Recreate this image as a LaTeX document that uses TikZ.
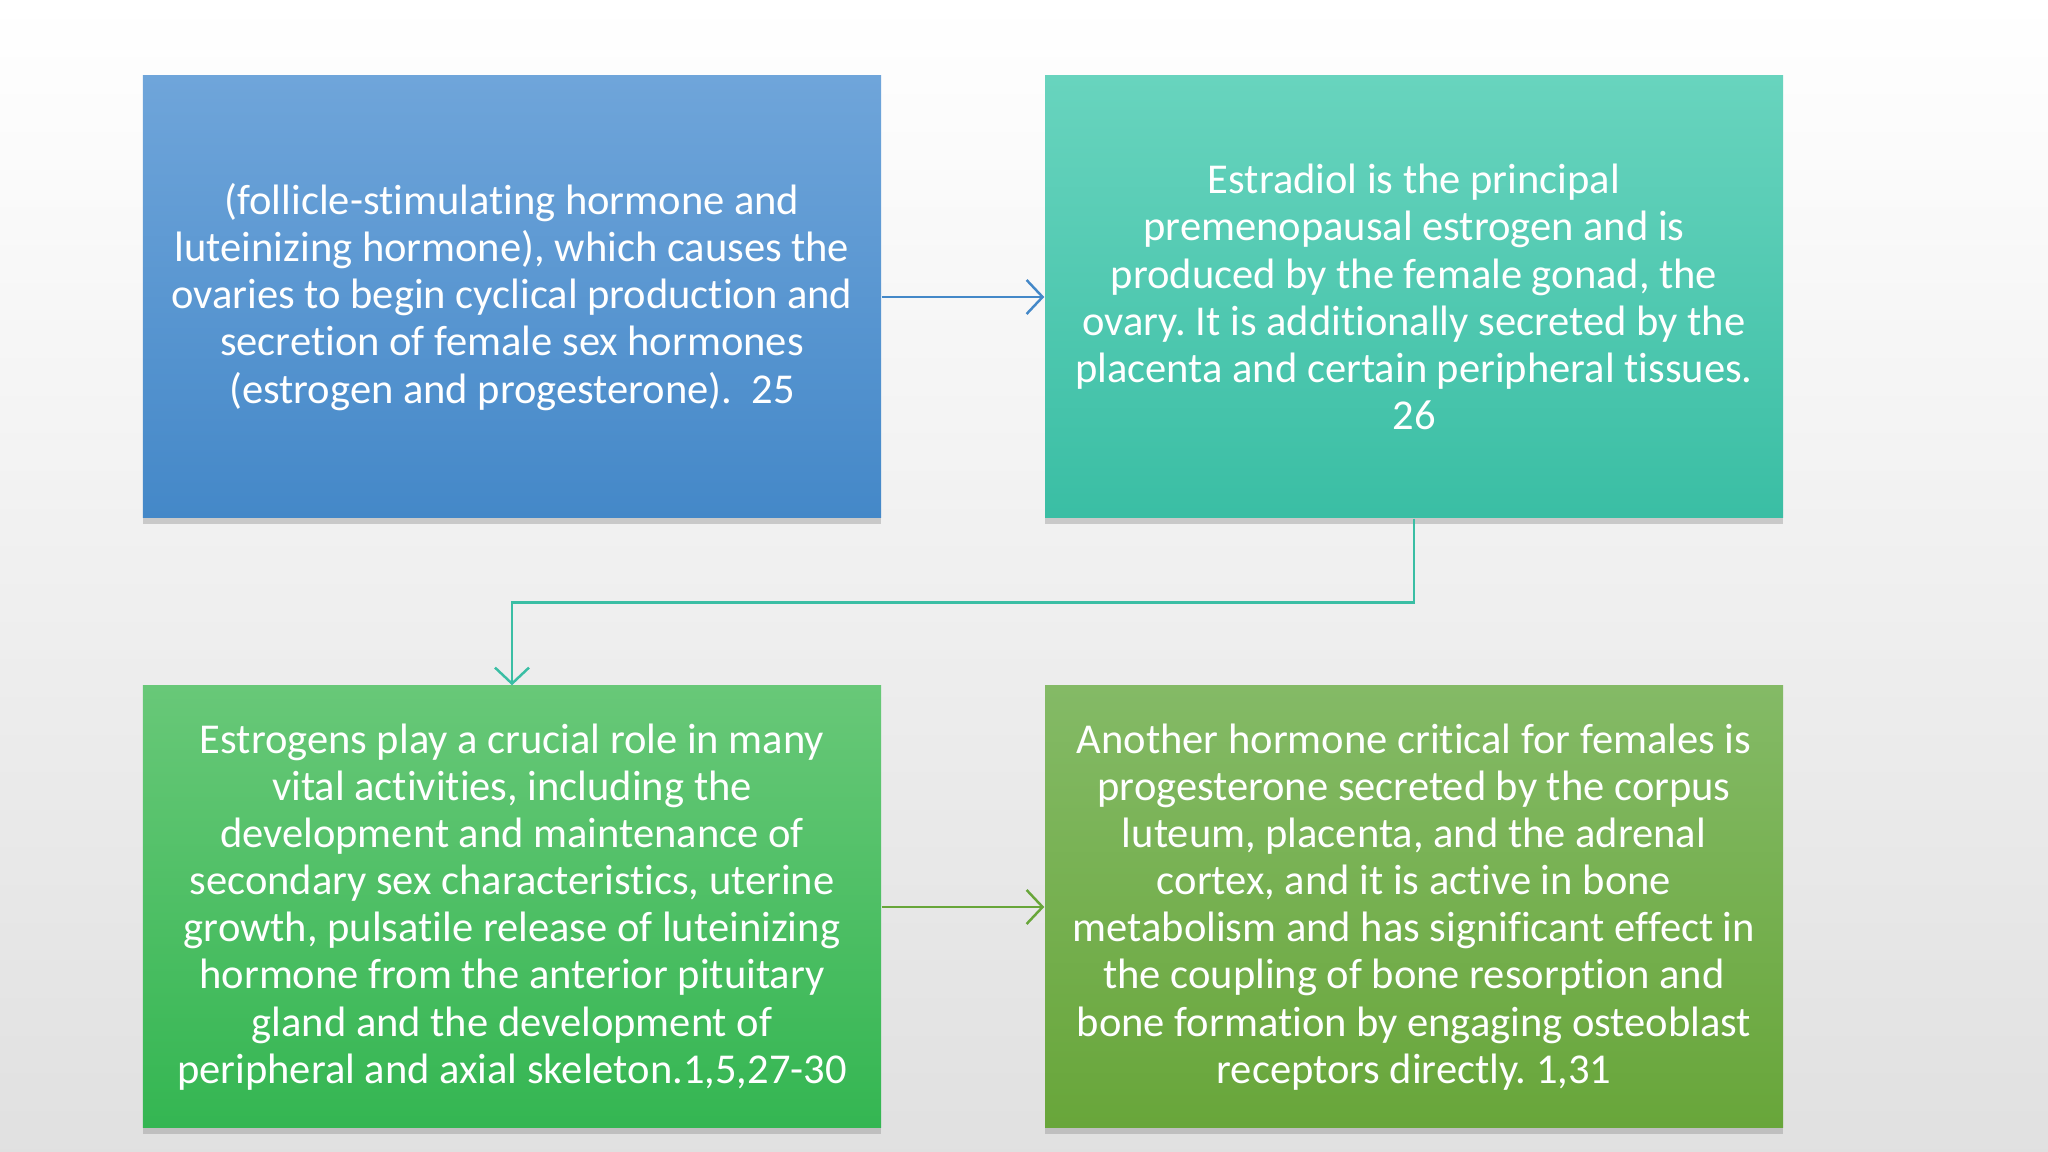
\documentclass[tikz,border=0pt]{standalone}
\usepackage{fontspec}
\setmainfont[Ligatures=NoCommon]{Carlito}
\usepackage{xcolor}
\usetikzlibrary{arrows.meta,shadows}
\frenchspacing

\definecolor{blueTop}{RGB}{111,165,218}
\definecolor{blueBot}{RGB}{68,136,200}
\definecolor{tealTop}{RGB}{104,212,190}
\definecolor{tealBot}{RGB}{58,190,164}
\definecolor{greenTop}{RGB}{104,200,120}
\definecolor{greenBot}{RGB}{52,182,82}
\definecolor{oliveTop}{RGB}{132,186,102}
\definecolor{oliveBot}{RGB}{104,166,58}

\begin{document}
\begin{tikzpicture}[
  box/.style={rectangle, minimum width=7.38cm, minimum height=4.42cm, inner sep=0pt,
    align=center, text=white, font=\fontsize{12.1}{13.4}\selectfont,
    drop shadow={shadow xshift=0mm, shadow yshift=-0.6mm, fill=black!50, opacity=0.35}},
  flow/.style={line width=0.7pt, -{Straight Barb[length=1.6mm,width=3.4mm]}}
]
  % Background
  \shade[top color=white, middle color=black!3, bottom color=black!12] (0,0) rectangle (20.48,11.52);
  \useasboundingbox (0,0) rectangle (20.48,11.52);

  % Draw boxes
  \node[box, top color=blueTop, bottom color=blueBot] (fsh) at (5.12, 8.55)
    {(follicle-stimulating hormone and\\luteinizing hormone), which causes the\\ovaries to begin cyclical production and\\secretion of female sex hormones\\(estrogen and progesterone).~~25};
  \node[box, top color=tealTop, bottom color=tealBot] (estradiol) at (14.14, 8.55)
    {Estradiol is the principal\\premenopausal estrogen and is\\produced by the female gonad, the\\ovary. It is additionally secreted by the\\placenta and certain peripheral tissues.\\26};
  \node[box, top color=greenTop, bottom color=greenBot] (estrogens) at (5.12, 2.45)
    {Estrogens play a crucial role in many\\vital activities, including the\\development and maintenance of\\secondary sex characteristics, uterine\\growth, pulsatile release of luteinizing\\hormone from the anterior pituitary\\gland and the development of\\peripheral and axial skeleton.1,5,27-30};
  \node[box, top color=oliveTop, bottom color=oliveBot] (progest) at (14.14, 2.45)
    {Another hormone critical for females is\\progesterone secreted by the corpus\\luteum, placenta, and the adrenal\\cortex, and it is active in bone\\metabolism and has significant effect in\\the coupling of bone resorption and\\bone formation by engaging osteoblast\\receptors directly. 1,31};

  % Draw connectors
  \draw[flow, draw=blueBot] (fsh.east) -- (estradiol.west);
  \draw[flow, draw=tealBot] (estradiol.south) -- ++(0,-0.84) -| (estrogens.north);
  \draw[flow, draw=oliveBot] (estrogens.east) -- (progest.west);
\end{tikzpicture}
\end{document}
